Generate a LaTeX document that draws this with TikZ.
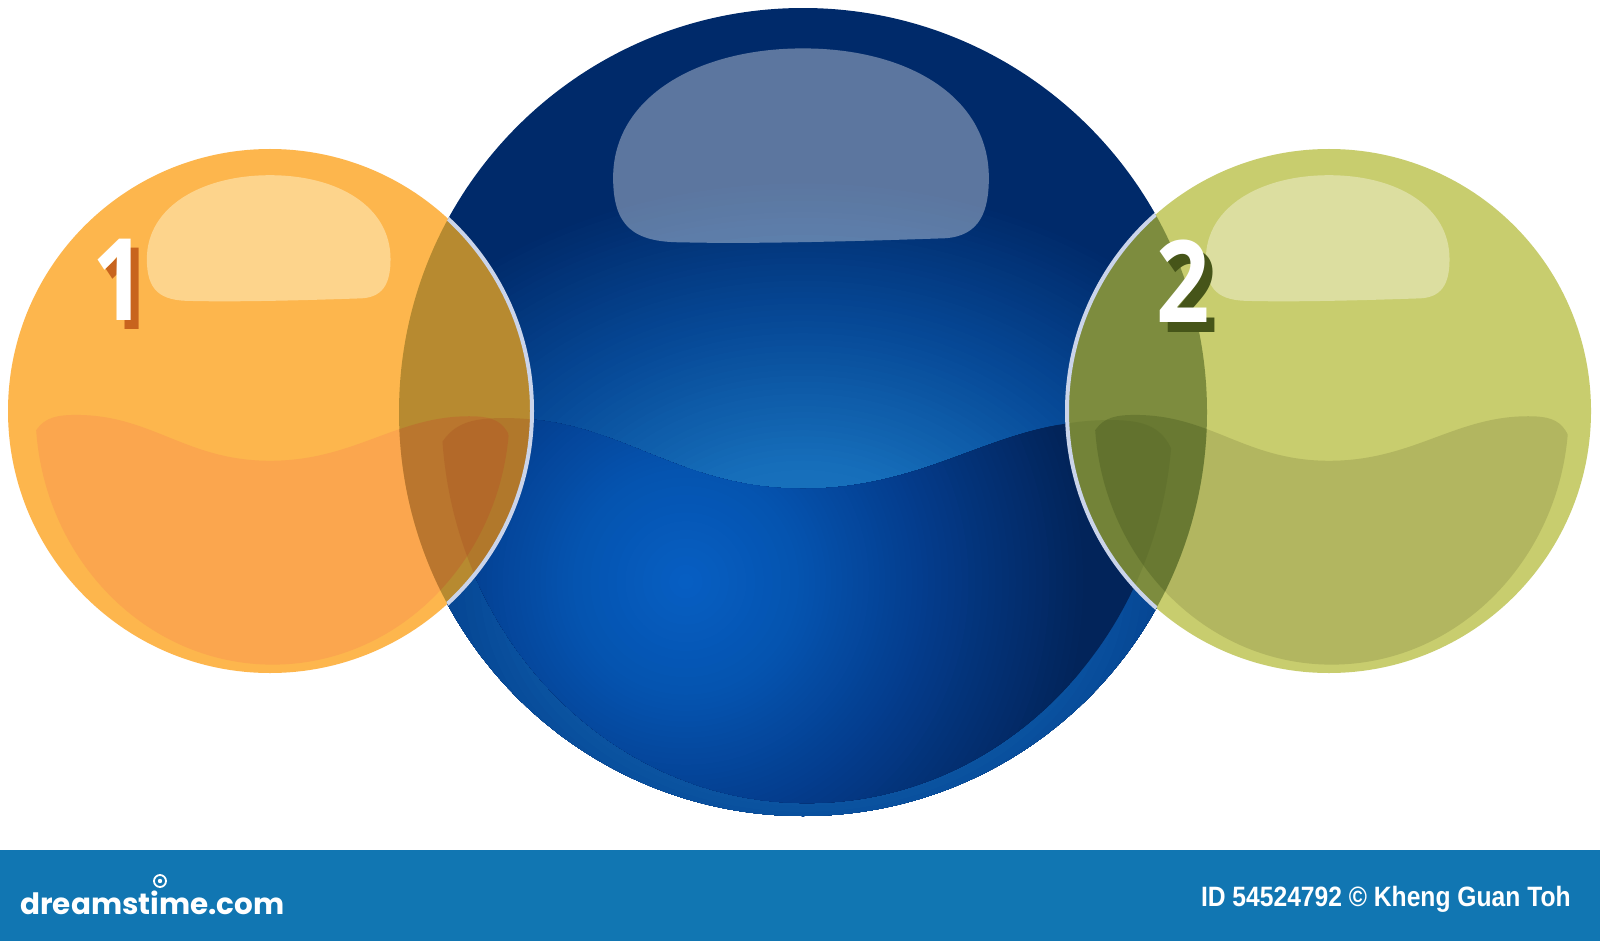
\documentclass[tikz,border=0pt]{standalone}
\usepackage{fontspec}
\setmainfont{Liberation Sans}
\newfontfamily\numfont{Open Sans}
\newfontfamily\logofont{Poppins}
\definecolor{uA}{RGB}{30,125,195}
\definecolor{uB}{RGB}{22,110,186}
\definecolor{uC}{RGB}{6,72,150}
\definecolor{uD}{RGB}{0,42,106}
\definecolor{lA}{RGB}{6,94,194}
\definecolor{lB}{RGB}{5,84,176}
\definecolor{lC}{RGB}{4,60,140}
\definecolor{lD}{RGB}{2,36,90}
\definecolor{orBase}{RGB}{253,182,77}
\definecolor{orLow}{RGB}{251,166,78}
\definecolor{orHl}{RGB}{253,212,140}
\definecolor{grBase}{RGB}{200,205,110}
\definecolor{grLow}{RGB}{178,182,96}
\definecolor{grHl}{RGB}{220,222,160}
\definecolor{ovO}{RGB}{183,138,48}
\definecolor{ovOlow}{RGB}{190,95,45}
\definecolor{ovOblue}{RGB}{160,70,30}
\definecolor{ovG}{RGB}{125,140,62}
\definecolor{ovGlow}{RGB}{60,80,25}
\definecolor{rimC}{RGB}{202,212,234}
\definecolor{shO}{RGB}{200,100,30}
\definecolor{shG}{RGB}{70,85,25}
\definecolor{bannerC}{RGB}{17,118,178}
\newcommand\lowerwave{(-0.95,-0.35) .. controls (-0.93,-0.05) and (-0.88,-0.015) .. (-0.74,-0.015) .. controls (-0.45,-0.015) and (-0.32,-0.19) .. (0,-0.19) .. controls (0.32,-0.19) and (0.48,-0.02) .. (0.76,-0.02) .. controls (0.90,-0.02) and (0.94,-0.06) .. (0.95,-0.35) -- (0.95,-1.1) -- (-0.95,-1.1) -- cycle}
\newcommand\hlpath{(-0.30,0.42) .. controls (-0.10,0.415) and (0.20,0.425) .. (0.35,0.43) .. controls (0.44,0.435) and (0.46,0.50) .. (0.46,0.58) .. controls (0.46,0.78) and (0.26,0.90) .. (0,0.90) .. controls (-0.26,0.90) and (-0.47,0.78) .. (-0.47,0.58) .. controls (-0.47,0.46) and (-0.42,0.42) .. (-0.30,0.42) -- cycle}
\newcommand\lowclip{\clip (0.01,0) ellipse [x radius=0.905, y radius=0.968];}
\newcommand\sidesphere[6]{%
  \begin{scope}[shift={(#1,#2)},x=#3,y=#3]
    \fill[#4] (0,0) circle [radius=1];
    \begin{scope}\lowclip\fill[#5] \lowerwave;\end{scope}
    \fill[#6] \hlpath;
  \end{scope}}
% concentric-ring gradient segment: centre, r_out, r_in, colour out, colour in, steps, x-stretch
\newcommand\gradseg[7]{%
  \foreach \i in {0,...,#6}{%
    \pgfmathsetmacro\rr{#2-(#2-#3)*\i/#6}%
    \pgfmathsetmacro\rx{#7*\rr}%
    \pgfmathsetmacro\pp{100*\i/#6}%
    \fill[#5!\pp!#4] (#1) ellipse [x radius=\rx, y radius=\rr];}}
\newcommand\shadownum[2]{\scalebox{0.82}[1]{\makebox[0pt][l]{\hspace{5pt}\raisebox{-5pt}{\textcolor{#1}{#2}}}#2}}
\begin{document}
\begin{tikzpicture}[x=0.5pt,y=-0.5pt,
  rim/.style={draw=rimC,line width=2pt},
  numtx/.style={inner sep=0pt,text=white,anchor=base west,font=\numfont\bfseries\fontsize{57}{57}\selectfont},
  logo/.style={inner sep=0pt,text=white,font=\logofont\bfseries},
  idtext/.style={inner sep=0pt,text=white,font=\bfseries\fontsize{14}{16}\selectfont}]
\useasboundingbox (0,0) rectangle (1600,941);
\fill[white] (0,0) rectangle (1600,941);
% blue sphere
\begin{scope}[shift={(803,412)},x=202pt,y=202pt]
  \coordinate (gu) at (0,-0.42);
  \coordinate (gl) at (-0.29,-0.42);
  \begin{scope}
    \clip (0,0) circle [radius=1];
    \fill[uD] (-1,-1) rectangle (1,1);
    \gradseg{gu}{1}{0.66}{uD}{uC}{24}{1.3}
    \gradseg{gu}{0.66}{0.3}{uC}{uB}{24}{1.3}
    \gradseg{gu}{0.3}{0.02}{uB}{uA}{12}{1.3}
  \end{scope}
  \begin{scope}
    \lowclip\clip \lowerwave;
    \fill[lD] (-1,-1) rectangle (1,1);
    \gradseg{gl}{1}{0.6}{lD}{lC}{24}{1}
    \gradseg{gl}{0.6}{0.28}{lC}{lB}{24}{1}
    \gradseg{gl}{0.28}{0.02}{lB}{lA}{12}{1}
  \end{scope}
  \fill[white,fill opacity=0.36] \hlpath;
\end{scope}
% side spheres
\sidesphere{270}{411}{131pt}{orBase}{orLow}{orHl}
\sidesphere{1329}{411}{131pt}{grBase}{grLow}{grHl}
% orange overlap
\begin{scope}
  \clip (803,412) circle [radius=404];
  \clip (270,411) circle [radius=262];
  \fill[ovO] (0,0) rectangle (1600,941);
  \begin{scope}[shift={(270,411)},x=131pt,y=131pt]
    \lowclip\fill[ovOlow,fill opacity=0.45] \lowerwave;
  \end{scope}
  \begin{scope}[shift={(803,412)},x=202pt,y=202pt]
    \lowclip\fill[ovOblue,fill opacity=0.25] \lowerwave;
  \end{scope}
\end{scope}
% green overlap
\begin{scope}
  \clip (803,412) circle [radius=404];
  \clip (1329,411) circle [radius=262];
  \fill[ovG] (0,0) rectangle (1600,941);
  \begin{scope}[shift={(1329,411)},x=131pt,y=131pt]
    \lowclip\fill[ovGlow,fill opacity=0.3] \lowerwave;
  \end{scope}
  \begin{scope}[shift={(803,412)},x=202pt,y=202pt]
    \lowclip\fill[ovGlow,fill opacity=0.15] \lowerwave;
  \end{scope}
\end{scope}
% rims
\begin{scope}
  \clip (803,412) circle [radius=404];
  \draw[rim] (270,411) circle [radius=262];
  \draw[rim] (1329,411) circle [radius=262];
\end{scope}
% numbers
\node[numtx] (n1) at (92,320) {\shadownum{shO}{1}};
\node[numtx] (n2) at (1156,322) {\shadownum{shG}{2}};
% banner
\fill[bannerC] (0,850) rectangle (1600,941);
\node[logo,anchor=west] (logo) at (20,903) {\resizebox{132pt}{!}{dreamstime.com}};
\draw[white,line width=0.9pt] (160,881) circle [radius=6];
\fill[white] (160,881) circle [radius=2.2];
\node[idtext,anchor=east] (id) at (1571,899) {\scalebox{0.88}[1]{ID 54524792 © Kheng Guan Toh}};
\end{tikzpicture}
\end{document}
